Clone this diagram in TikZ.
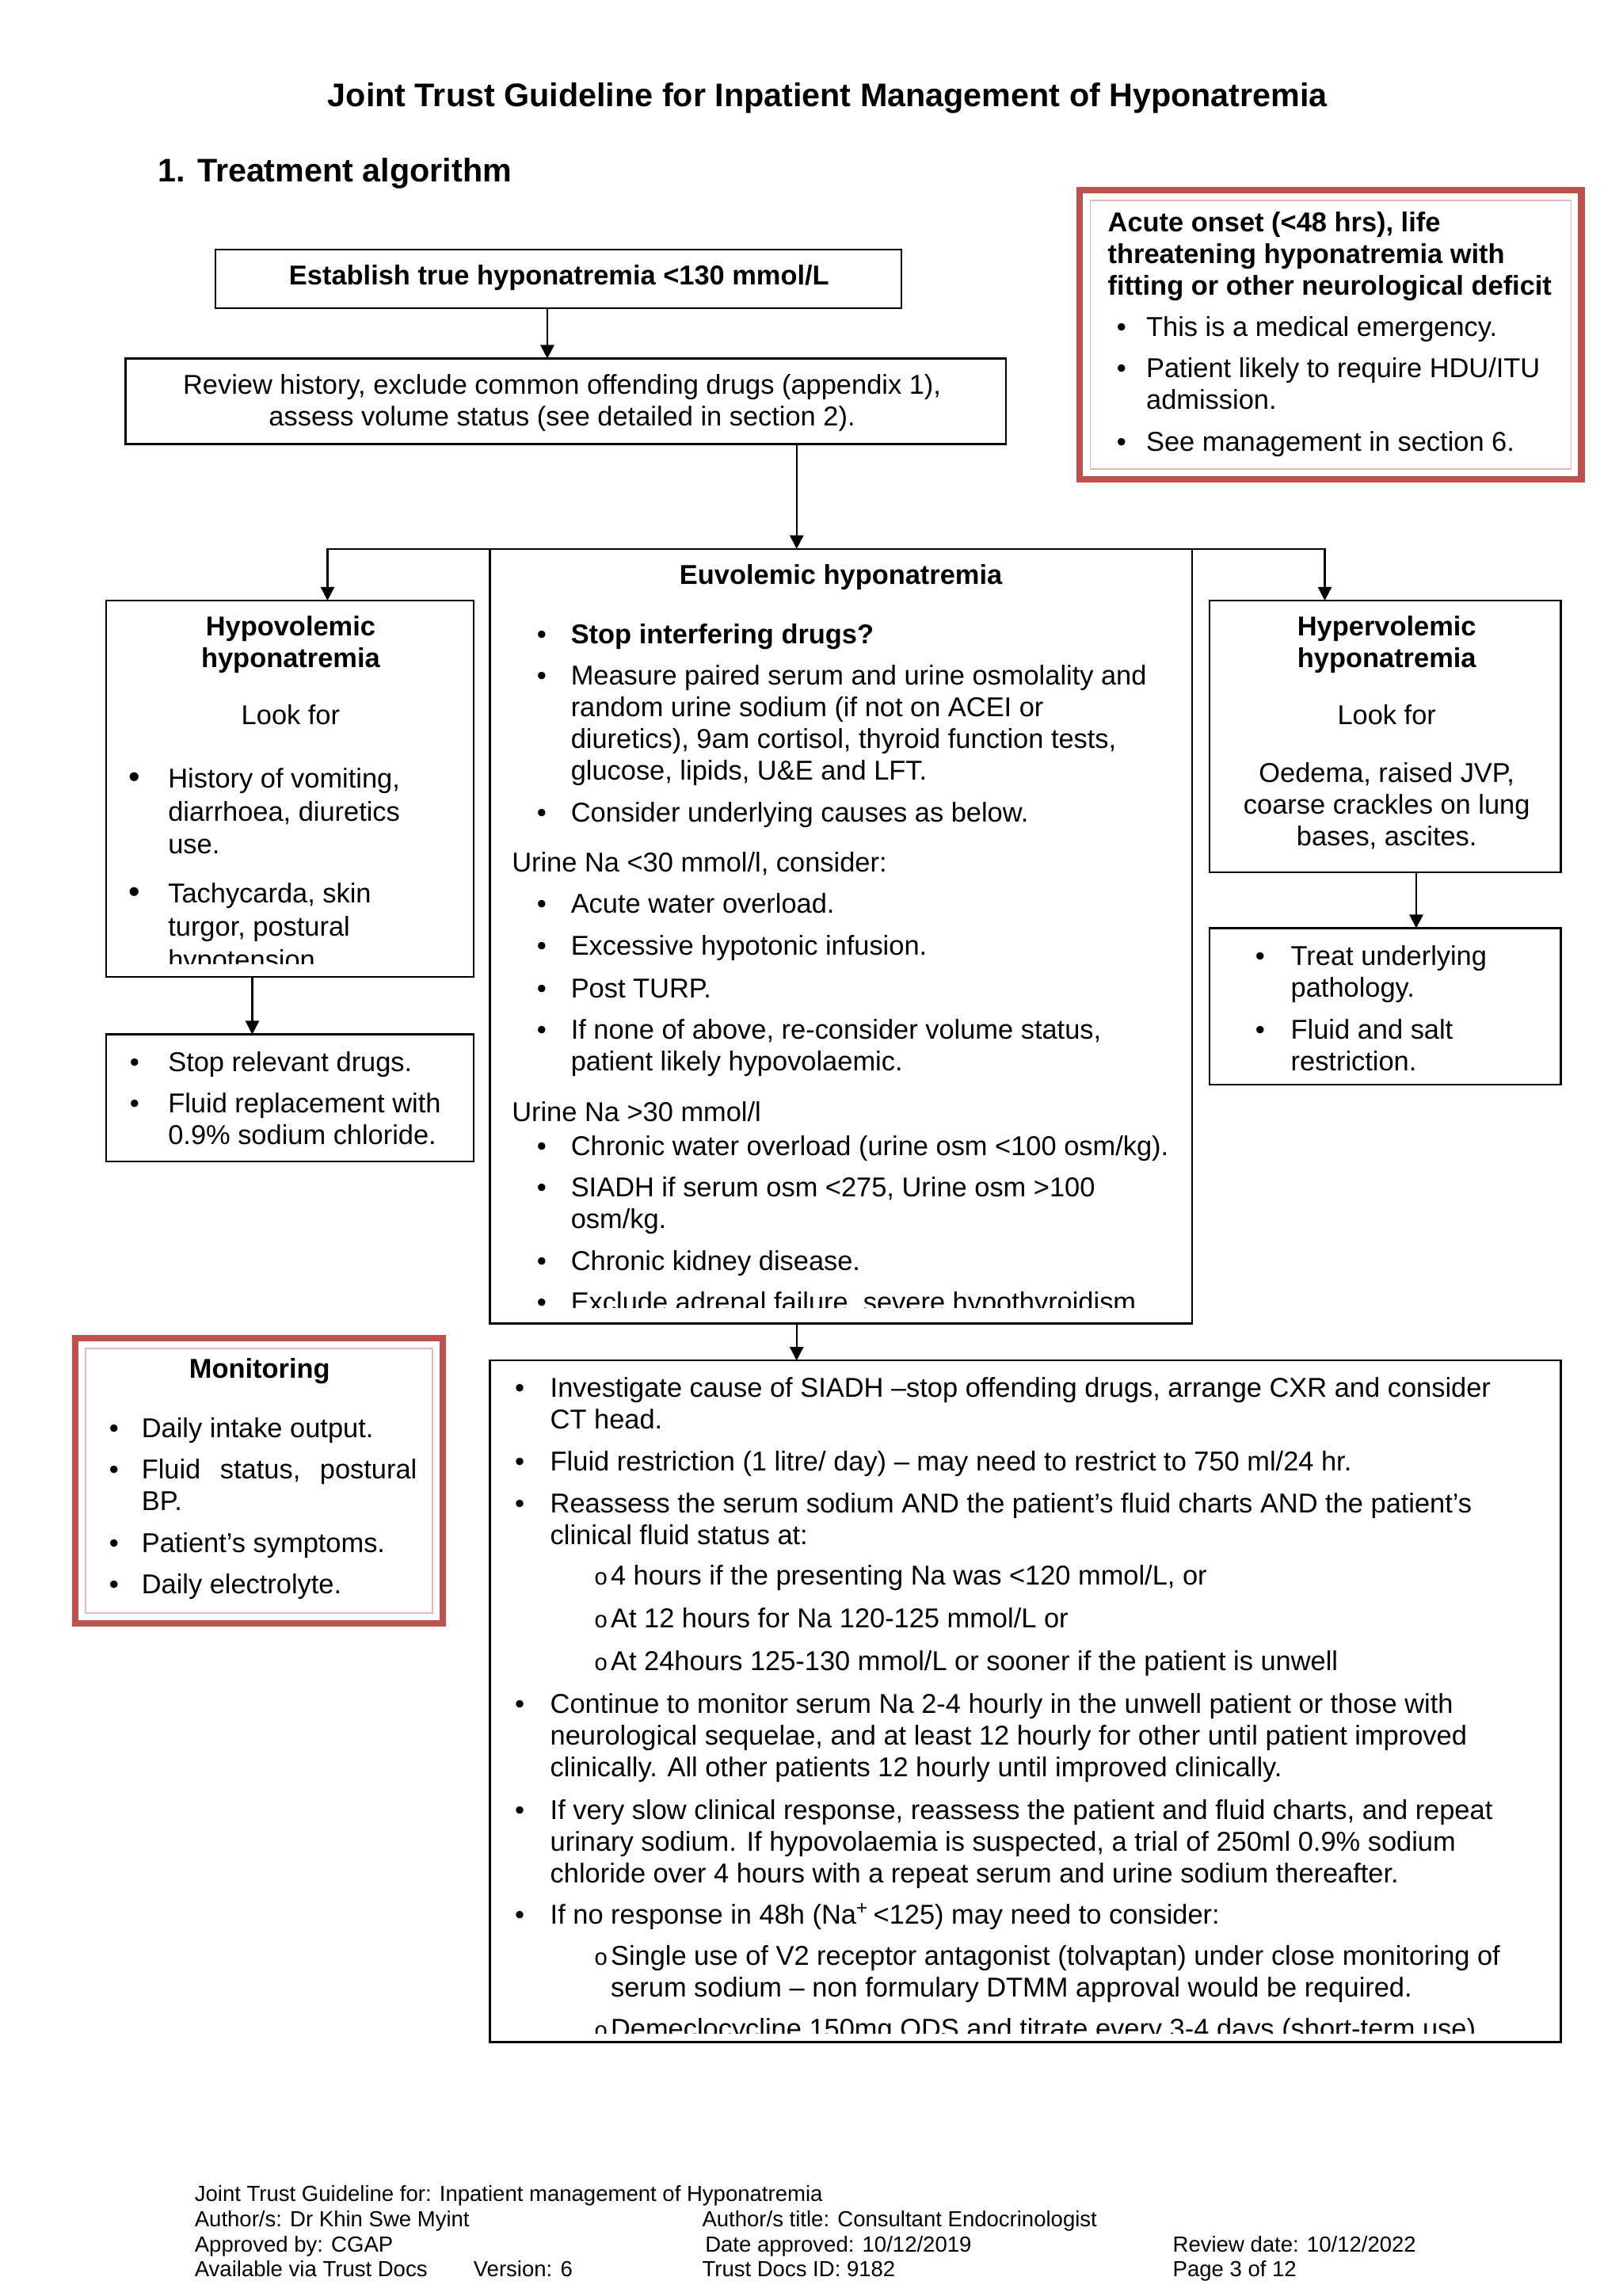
\documentclass[tikz,border=0pt]{standalone}
\usepackage{fontspec}
\setmainfont{Liberation Sans}
\usetikzlibrary{arrows.meta,fit,calc}
\definecolor{rbred}{HTML}{C0504D}
\definecolor{rbpink}{HTML}{E6B9B8}
\newcommand\bodyfs{\fontsize{10}{11.64}\selectfont}
\newcommand\hypofs{\fontsize{10}{12.1}\selectfont}
\newcommand\footfs{\fontsize{8}{9.2}\selectfont}
\newcommand\lft[1]{\begin{tabular}[t]{@{}l@{}}#1\end{tabular}}
\newcommand\ctr[1]{\begin{tabular}[t]{@{}c@{}}#1\end{tabular}}
\tikzset{
 x=0.5412pt, y=-0.5412pt,
 txt/.style={anchor=base west, inner sep=0pt, outer sep=0pt, font=\bodyfs},
 ctxt/.style={anchor=base, inner sep=0pt, outer sep=0pt, font=\bodyfs},
 boxfit/.style={draw=black, line width=0.7pt, inner sep=0pt, outer sep=0pt},
 redfit/.style={draw=rbred, line width=2.4pt, inner sep=0pt, outer sep=0pt},
 pinkline/.style={draw=rbpink, line width=0.5pt},
 arr/.style={-{Triangle[length=5pt,width=5pt]}, line width=0.7pt},
 foot/.style={anchor=base west, inner sep=0pt, outer sep=0pt, font=\footfs},
}
\newcounter{bc}
\newcommand\bul[4]{\stepcounter{bc}\node[txt] (b\thebc) at (#1,#3) {\textbullet}; \node[txt] (t\thebc) at (#2,#3) {\lft{#4}};}
\newcommand\bigbul[4]{\stepcounter{bc}\node[txt] (b\thebc) at (#1,#3) {\large\textbullet}; \node[txt, font=\hypofs] (t\thebc) at (#2,#3) {\lft{#4}};}
\newcommand\subb[4]{\stepcounter{bc}\node[txt, font=\fontsize{8.5}{9}\selectfont] (b\thebc) at (#1,#3) {o}; \node[txt] (t\thebc) at (#2,#3) {\lft{#4}};}
\newcommand\bx[6]{\coordinate (#2-a) at (#3,#4); \coordinate (#2-b) at (#5,#6); \node[#1, fit=(#2-a)(#2-b)] (#2) {};}
\begin{document}
\begin{tikzpicture}
\useasboundingbox (0,0) rectangle (1100,1556);
\fill[white] (0,0) rectangle (1100,1556);

% titles
\node[ctxt, font=\bfseries\fontsize{12}{14}\selectfont] (title) at (561,72) {Joint Trust Guideline for Inpatient Management of Hyponatremia};
\node[txt, font=\bfseries\fontsize{12}{14}\selectfont] (sec) at (107,123) {1. Treatment algorithm};

% boxes
\bx{boxfit}{est}{146}{169}{611}{209}
\bx{boxfit}{rev}{85}{243}{682}{301}
\bx{boxfit}{euvo}{332}{372}{808}{897}
\bx{boxfit}{hypo}{72}{407}{321}{662}
\bx{boxfit}{hypoact}{72}{701}{321}{787}
\bx{boxfit}{hyper}{820}{407}{1058}{591}
\bx{boxfit}{hyperact}{820}{629}{1058}{735}
\bx{boxfit}{treat}{332}{922}{1058}{1384}
\bx{redfit}{acute}{732}{129}{1072}{325}
\bx{redfit}{monit}{51}{907}{300}{1100}
\draw[pinkline] ($(acute.north west)+(7,7)$) rectangle ($(acute.south east)+(-7,-7)$);
\draw[pinkline] ($(monit.north west)+(7,7)$) rectangle ($(monit.south east)+(-7,-7)$);

% connectors
\coordinate (c1) at (371,0);
\coordinate (c2) at (540,0);
\coordinate (c3) at (222,0);
\coordinate (c4) at (898,0);
\coordinate (c5) at (171,0);
\coordinate (c6) at (960,0);
\draw[arr] (est.south -| c1) -- (rev.north -| c1);
\draw[arr] (rev.south -| c2) -- (euvo.north -| c2);
\draw[arr] (euvo.north west) -| (hypo.north -| c3);
\draw[arr] (euvo.north east) -| (hyper.north -| c4);
\draw[arr] (hypo.south -| c5) -- (hypoact.north -| c5);
\draw[arr] (hyper.south -| c6) -- (hyperact.north -| c6);
\draw[arr] (euvo.south -| c2) -- (treat.north -| c2);

% establish / review
\node[ctxt, font=\bfseries\bodyfs] (estt) at (379,193) {Establish true hyponatremia <130 mmol/L};
\node[ctxt] (revt) at (381,267) {\ctr{Review history, exclude common offending drugs (appendix 1),\\assess volume status (see detailed in section 2).}};

% acute
\node[txt, font=\bfseries\bodyfs] (acuteh) at (751,157) {\lft{Acute onset (<48 hrs), life\\threatening hyponatremia with\\fitting or other neurological deficit}};
\bul{757}{777}{228}{This is a medical emergency.}
\bul{757}{777}{256}{Patient likely to require HDU/ITU\\admission.}
\bul{757}{777}{306}{See management in section 6.}

% euvolemic
\node[ctxt, font=\bfseries\bodyfs] (euvoh) at (570,396) {Euvolemic hyponatremia};
\begin{scope}
\clip (332,372) rectangle (808,886);
\bul{364}{387}{436}{\textbf{Stop interfering drugs?}}
\bul{364}{387}{464}{Measure paired serum and urine osmolality and\\random urine sodium (if not on ACEI or\\diuretics), 9am cortisol, thyroid function tests,\\glucose, lipids, U\&E and LFT.}
\bul{364}{387}{557}{Consider underlying causes as below.}
\node[txt] (una) at (347,591) {Urine Na <30 mmol/l, consider:};
\bul{364}{387}{619}{Acute water overload.}
\bul{364}{387}{647}{Excessive hypotonic infusion.}
\bul{364}{387}{676}{Post TURP.}
\bul{364}{387}{704}{If none of above, re-consider volume status,\\patient likely hypovolaemic.}
\node[txt] (unb) at (347,760) {Urine Na >30 mmol/l};
\bul{364}{387}{783}{Chronic water overload (urine osm <100 osm/kg).}
\bul{364}{387}{811}{SIADH if serum osm <275, Urine osm >100\\osm/kg.}
\bul{364}{387}{861}{Chronic kidney disease.}
\bul{364}{387}{889}{Exclude adrenal failure, severe hypothyroidism.}
\end{scope}

% hypovolemic
\node[ctxt, font=\bfseries\bodyfs] (hypoh) at (197,431) {\ctr{Hypovolemic\\hyponatremia}};
\node[ctxt] (hypol) at (197,491) {Look for};
\begin{scope}
\clip (72,407) rectangle (321,653);
\bigbul{87}{114}{534}{History of vomiting,\\diarrhoea, diuretics\\use.}
\bigbul{87}{114}{612}{Tachycarda, skin\\turgor, postural\\hypotension}
\end{scope}
\bul{88}{114}{726}{Stop relevant drugs.}
\bul{88}{114}{754}{Fluid replacement with\\0.9\% sodium chloride.}

% hypervolemic
\node[ctxt, font=\bfseries\bodyfs] (hyperh) at (940,431) {\ctr{Hypervolemic\\hyponatremia}};
\node[ctxt] (hyperl) at (940,491) {Look for};
\node[ctxt] (hypers) at (940,530) {\ctr{Oedema, raised JVP,\\coarse crackles on lung\\bases, ascites.}};
\bul{851}{875}{654}{Treat underlying\\pathology.}
\bul{851}{875}{704}{Fluid and salt\\restriction.}

% monitoring
\node[ctxt, font=\bfseries\bodyfs] (monh) at (176,934) {Monitoring};
\bul{74}{96}{974}{Daily intake output.}
\bul{74}{96}{1002}{\hbox to 101pt{Fluid\hfil status,\hfil postural}\\BP.}
\bul{74}{96}{1052}{Patient’s symptoms.}
\bul{74}{96}{1080}{Daily electrolyte.}

% treatment box
\begin{scope}
\clip (332,922) rectangle (1058,1378);
\bul{349}{373}{947}{Investigate cause of SIADH –stop offending drugs, arrange CXR and consider\\CT head.}
\bul{349}{373}{997}{Fluid restriction (1 litre/ day) – may need to restrict to 750 ml/24 hr.}
\bul{349}{373}{1025}{Reassess the serum sodium AND the patient’s fluid charts AND the patient’s\\clinical fluid status at:}
\subb{403}{414}{1074}{4 hours if the presenting Na was <120 mmol/L, or}
\subb{403}{414}{1103}{At 12 hours for Na 120-125 mmol/L or}
\subb{403}{414}{1132}{At 24hours 125-130 mmol/L or sooner if the patient is unwell}
\bul{349}{373}{1161}{Continue to monitor serum Na 2-4 hourly in the unwell patient or those with\\neurological sequelae, and at least 12 hourly for other until patient improved\\clinically. All other patients 12 hourly until improved clinically.}
\bul{349}{373}{1233}{If very slow clinical response, reassess the patient and fluid charts, and repeat\\urinary sodium. If hypovolaemia is suspected, a trial of 250ml 0.9\% sodium\\chloride over 4 hours with a repeat serum and urine sodium thereafter.}
\bul{349}{373}{1304}{If no response in 48h (Na\textsuperscript{+}\,<125) may need to consider:}
\subb{403}{414}{1332}{Single use of V2 receptor antagonist (tolvaptan) under close monitoring of\\serum sodium – non formulary DTMM approval would be required.}
\subb{403}{414}{1381}{Demeclocycline 150mg ODS and titrate every 3-4 days (short-term use)}
\end{scope}

% footer
\node[foot] (f1) at (132,1492) {Joint Trust Guideline for: Inpatient management of Hyponatremia};
\node[foot] (f2) at (132,1509) {Author/s: Dr Khin Swe Myint};
\node[foot] (f3) at (476,1509) {Author/s title: Consultant Endocrinologist};
\node[foot] (f4) at (132,1526) {Approved by: CGAP};
\node[foot] (f5) at (478,1526) {Date approved: 10/12/2019};
\node[foot] (f6) at (795,1526) {Review date: 10/12/2022};
\node[foot] (f7) at (132,1543) {Available via Trust Docs};
\node[foot] (f8) at (321,1543) {Version: 6};
\node[foot] (f9) at (476,1543) {Trust Docs ID: 9182};
\node[foot] (f10) at (795,1543) {Page 3 of 12};
\end{tikzpicture}
\end{document}
